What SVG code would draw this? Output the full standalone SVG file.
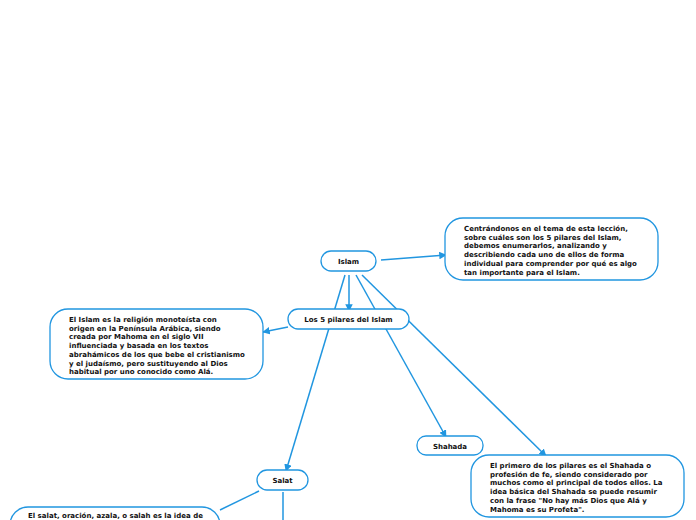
<svg xmlns="http://www.w3.org/2000/svg" width="696" height="520" viewBox="0 0 696 520">
<style>
.n{fill:#fff;stroke:#2196e0;stroke-width:1.3}
.t{font-family:"DejaVu Sans",sans-serif;font-size:7px;font-weight:bold;fill:#111}
.c{stroke:#2196e0;stroke-width:1.5;fill:none;marker-end:url(#a)}
.l{stroke:#2196e0;stroke-width:1.5;fill:none}
</style>
<defs><marker id="a" viewBox="0 0 10 10" refX="9" refY="5" markerWidth="5" markerHeight="5" orient="auto"><path d="M0,0L10,5L0,10z" fill="#2196e0"/></marker></defs>
<rect width="696" height="520" fill="#fff"/>
<g id="connectors">
<path class="c" d="M381,260L446,255"/>
<path class="c" d="M349,275L349,311"/>
<path class="c" d="M345,275L286,471"/>
<path class="c" d="M356,275L446,437"/>
<path class="c" d="M362,275L546,456"/>
<path class="c" d="M288,327L263,332"/>
<path class="l" d="M259,491L220,510"/>
<path class="l" d="M283,492L283,520"/>
</g>
<g id="islam"><rect class="n" x="321" y="251" width="55" height="20" rx="10"/><text class="t" x="348.5" y="264" text-anchor="middle">Islam</text></g>
<g id="pilares"><rect class="n" x="288" y="309" width="121" height="20" rx="10"/><text class="t" x="348.5" y="322" text-anchor="middle">Los 5 pilares del Islam</text></g>
<g id="shahada"><rect class="n" x="417" y="436" width="66" height="19" rx="9"/><text class="t" x="450" y="448.5" text-anchor="middle">Shahada</text></g>
<g id="salat"><rect class="n" x="257" y="470" width="51" height="20" rx="10"/><text class="t" x="282.5" y="483" text-anchor="middle">Salat</text></g>
<g id="centrandonos"><rect class="n" x="445" y="218" width="213" height="62" rx="18"/>
<text class="t" x="464" y="231">Centrándonos en el tema de esta lección,<tspan x="464" dy="8.7">sobre cuáles son los 5 pilares del Islam,</tspan><tspan x="464" dy="8.7">debemos enumerarlos, analizando y</tspan><tspan x="464" dy="8.7">describiendo cada uno de ellos de forma</tspan><tspan x="464" dy="8.7">individual para comprender por qué es algo</tspan><tspan x="464" dy="8.7">tan importante para el Islam.</tspan></text></g>
<g id="islamdef"><rect class="n" x="50" y="309" width="213" height="70" rx="18"/>
<text class="t" x="69" y="322">El Islam es la religión monoteísta con<tspan x="69" dy="8.7">origen en la Península Arábica, siendo</tspan><tspan x="69" dy="8.7">creada por Mahoma en el siglo VII</tspan><tspan x="69" dy="8.7">influenciada y basada en los textos</tspan><tspan x="69" dy="8.7">abrahámicos de los que bebe el cristianismo</tspan><tspan x="69" dy="8.7">y el judaísmo, pero sustituyendo al Dios</tspan><tspan x="69" dy="8.7">habitual por uno conocido como Alá.</tspan></text></g>
<g id="primero"><rect class="n" x="471" y="455" width="213" height="62" rx="18"/>
<text class="t" x="490" y="468">El primero de los pilares es el Shahada o<tspan x="490" dy="8.7">profesión de fe, siendo considerado por</tspan><tspan x="490" dy="8.7">muchos como el principal de todos ellos. La</tspan><tspan x="490" dy="8.7">idea básica del Shahada se puede resumir</tspan><tspan x="490" dy="8.7">con la frase "No hay más Dios que Alá y</tspan><tspan x="490" dy="8.7">Mahoma es su Profeta".</tspan></text></g>
<g id="salatdef"><rect class="n" x="10" y="507" width="210" height="50" rx="18"/>
<text class="t" x="28" y="517.5">El salat, oración, azala, o salah es la idea de</text></g>
</svg>
